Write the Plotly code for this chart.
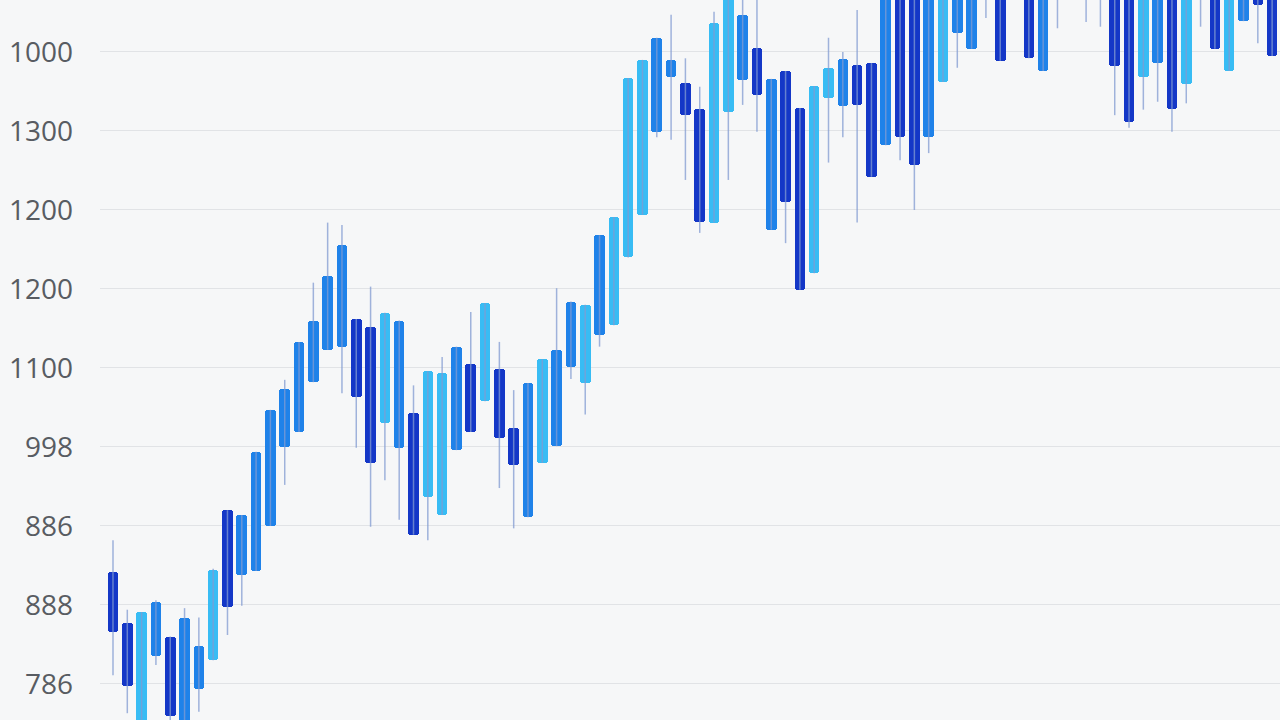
import plotly.graph_objects as go

# ---- data ----
opens  = [842, 777, 642, 804, 759, 648, 694, 730, 797, 914,
          843, 900, 1000, 1019, 1160, 1123, 1127, 1162, 1152, 1030,
          1160, 1043, 937, 914, 996, 1105, 1058, 1099, 1024, 911,
          980, 1001, 1184, 1081, 1142, 1154, 1240, 1294, 1518, 1468,
          1461, 1428, 1284, 1424, 1547, 1505, 1466, 1310, 1429, 1220,
          1442, 1432, 1484, 1486, 1382, 1591, 1590, 1392, 1462, 1524,
          1600, 1572, 1600, 1580, 1605, 1476, 1575, 1590, 1580, 1575,
          1600, 1595, 1468, 1486, 1600, 1460, 1575, 1600, 1476, 1539,
          1578, 1600]
highs  = [882, 794, 791, 806, 760, 796, 784, 846, 920, 914,
          994, 1047, 1085, 1133, 1208, 1284, 1281, 1162, 1203, 1170,
          1160, 1078, 1096, 1114, 1127, 1171, 1182, 1133, 1072, 1081,
          1111, 1201, 1184, 1180, 1268, 1291, 1467, 1490, 1518, 1547,
          1492, 1456, 1551, 1580, 1580, 1580, 1466, 1476, 1429, 1457,
          1518, 1500, 1553, 1486, 1601, 1601, 1600, 1605, 1610, 1615,
          1610, 1625, 1610, 1630, 1615, 1610, 1630, 1640, 1635, 1625,
          1610, 1605, 1610, 1605, 1610, 1605, 1630, 1610, 1605, 1610,
          1585, 1610]
lows   = [711, 663, 635, 724, 652, 645, 665, 730, 762, 799,
          843, 900, 952, 1019, 1082, 1123, 1068, 999, 899, 958,
          908, 889, 882, 914, 996, 1019, 1058, 948, 897, 911,
          980, 1001, 1086, 1041, 1127, 1154, 1240, 1294, 1392, 1389,
          1338, 1271, 1284, 1338, 1433, 1399, 1275, 1258, 1199, 1220,
          1360, 1392, 1284, 1342, 1382, 1363, 1300, 1372, 1462, 1480,
          1504, 1543, 1489, 1578, 1492, 1476, 1530, 1585, 1538, 1532,
          1420, 1404, 1427, 1437, 1399, 1435, 1532, 1504, 1476, 1539,
          1511, 1495]
closes = [766, 697, 791, 735, 660, 784, 748, 844, 920, 838,
          994, 1047, 1073, 1133, 1082, 1216, 1256, 1063, 980, 1170,
          999, 889, 1096, 1094, 1127, 1019, 1182, 1011, 977, 1081,
          1111, 1123, 1101, 1180, 1268, 1291, 1467, 1490, 1399, 1490,
          1420, 1285, 1537, 1578, 1465, 1446, 1275, 1476, 1199, 1457,
          1480, 1491, 1433, 1342, 1591, 1392, 1357, 1595, 1600, 1605,
          1504, 1615, 1489, 1620, 1492, 1600, 1620, 1630, 1625, 1615,
          1482, 1411, 1600, 1595, 1428, 1595, 1620, 1504, 1595, 1600,
          1559, 1495]

tick_values = [700, 800, 900, 1000, 1100, 1200, 1300, 1400, 1500]
tick_labels = ["786", "888", "886", "998", "1100", "1200", "1200", "1300", "1000"]

# ---- style ----
# tone of each candle body: 0 light cyan, 1 medium blue, 2 deep blue
tone = [2, 2, 0, 1, 2, 1, 1, 0, 2, 1,
        1, 1, 1, 1, 1, 1, 1, 2, 2, 0,
        1, 2, 0, 0, 1, 2, 0, 2, 2, 1,
        0, 1, 1, 0, 1, 0, 0, 0, 1, 1,
        2, 2, 0, 0, 1, 2, 1, 2, 2, 0,
        0, 1, 2, 2, 1, 2, 2, 1, 0, 1,
        1, 1, 2, 1, 2, 1, 1, 1, 1, 1,
        2, 2, 0, 1, 2, 0, 1, 2, 0, 1,
        2, 2]
palette = ["#38bcf4", "#1f82e9", "#1437c7"]

n = len(opens)
idx = list(range(n))

wick_x, wick_y = [], []
for i in idx:
    wick_x += [i, i, None]
    wick_y += [lows[i], highs[i], None]

body_base = [min(o, c) for o, c in zip(opens, closes)]
body_len = [abs(c - o) for o, c in zip(opens, closes)]
body_col = [palette[t] for t in tone]

fig = go.Figure()
fig.add_trace(go.Scatter(
    x=wick_x, y=wick_y, mode="lines",
    line=dict(color="rgba(130,155,210,0.75)", width=1.5),
    hoverinfo="skip", showlegend=False,
))
fig.add_trace(go.Bar(
    x=idx, y=body_len, base=body_base, width=0.74,
    marker=dict(color=body_col, line=dict(width=0), cornerradius=3),
    customdata=list(zip(opens, highs, lows, closes)),
    hovertemplate="O %{customdata[0]}<br>H %{customdata[1]}<br>L %{customdata[2]}<br>C %{customdata[3]}<extra></extra>",
    showlegend=False,
))

fig.update_layout(
    width=1280, height=720,
    margin=dict(l=100, r=0, t=0, b=0),
    paper_bgcolor="#f6f7f8",
    plot_bgcolor="#f6f7f8",
    bargap=0,
    font=dict(family="Open Sans, Noto Sans, sans-serif"),
)
fig.update_xaxes(
    range=[-0.908, 81.55], showgrid=False, zeroline=False,
    showticklabels=False, showline=False, ticks="",
)
fig.update_yaxes(
    range=[654.4, 1565.8],
    tickvals=tick_values, ticktext=tick_labels,
    showgrid=True, gridcolor="#e1e3e6", gridwidth=1.2,
    zeroline=False, showline=False, ticks="",
    tickfont=dict(size=28, color="#585c62", weight=500,
                  family="Open Sans, Noto Sans, sans-serif"),
    ticklabelstandoff=26,
)

fig.write_html(
    "out.html",
    config={"displayModeBar": False},
    post_script="document.body.style.margin='0';document.body.style.overflow='hidden';document.body.style.background='#f6f7f8';",
)
